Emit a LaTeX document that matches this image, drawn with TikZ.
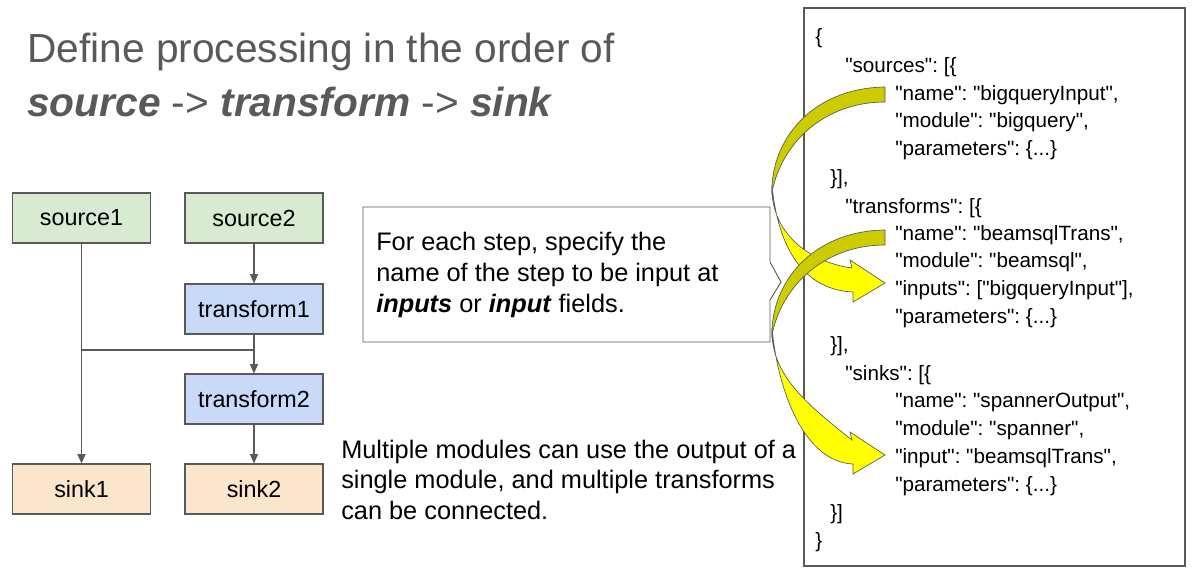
\documentclass[tikz,border=0pt]{standalone}
\usepackage{fontspec}
\setmainfont{Liberation Sans}[Ligatures=TeXOff]
\usetikzlibrary{arrows.meta}
\definecolor{grn}{HTML}{D9EAD3}
\definecolor{blu}{HTML}{C9DAF8}
\definecolor{org}{HTML}{FCE5CD}
\definecolor{edge}{HTML}{595959}
\definecolor{ttl}{HTML}{595959}
\definecolor{ylw}{HTML}{FFFF00}
\definecolor{olv}{HTML}{CCCC00}
\begin{document}
\frenchspacing
\begin{tikzpicture}[x=0.75pt,y=-0.75pt,
  box/.style={draw=edge,line width=0.8pt,minimum width=103.5pt,minimum height=37.5pt,inner sep=0pt,font=\fontsize{17.5}{20}\selectfont},
  con/.style={draw=edge,line width=0.9pt,-{Triangle[length=7pt,width=6pt]}},
  json/.style={anchor=base west,inner sep=0pt,font=\fontsize{15.5}{18}\selectfont},
  txt/.style={anchor=base west,inner sep=0pt,font=\fontsize{19}{22}\selectfont},
  band/.style={draw=edge,line width=0.5pt}]
\useasboundingbox (0,0) rectangle (1200,576);
\fill[white] (0,0) rectangle (1200,576);
% title
\node[anchor=base west,inner sep=0pt,text=ttl,font=\fontsize{30.5}{36}\selectfont] (t1) at (27,62) {Define processing in the order of};
\node[anchor=base west,inner sep=0pt,text=ttl,font=\fontsize{30.5}{36}\selectfont] (t2) at (27,116) {\textbf{\textit{source}} -> \textbf{\textit{transform}} -> \textbf{\textit{sink}}};
% boxes
\node[box,fill=grn] (s1) at (81.5,218) {source1};
\node[box,fill=grn] (s2) at (254,218) {source2};
\node[box,fill=blu] (tr1) at (254,309) {transform1};
\node[box,fill=blu] (tr2) at (254,399) {transform2};
\node[box,fill=org] (k1) at (81.5,489) {sink1};
\node[box,fill=org] (k2) at (254,489) {sink2};
\coordinate (j) at (254,350);
\coordinate (jl) at (81.5,350);
\draw[con] (s1) -- (k1);
\draw[con] (s2) -- (tr1);
\draw[con] (tr1) -- (tr2);
\draw[draw=edge,line width=0.9pt] (jl) -- (j);
\draw[con] (tr2) -- (k2);
% callout
\draw[draw=edge,line width=0.7pt,fill=white] (363,207) -- (770,207) -- (770,262) -- (781,282) -- (770,300) -- (770,342) -- (363,342) -- cycle;
\node[txt] (c1) at (376,250) {For each step, specify the};
\node[txt] (c2) at (376,281) {name of the step to be input at};
\node[txt] (c3) at (376,312) {\textbf{\textit{inputs}} or \textbf{\textit{input}} fields.};
% bottom text
\node[txt] (b1) at (341,458) {Multiple modules can use the output of a};
\node[txt] (b2) at (341,488) {single module, and multiple transforms};
\node[txt] (b3) at (341,519) {can be connected.};
% json box
\draw[draw=edge,line width=0.8pt] (804,8) rectangle (1185,566);
\node[json] at (815,43) {\{};
\node[json] at (845,72) {"sources": [\{};
\node[json] at (895,100) {"name": "bigqueryInput",};
\node[json] at (895,127) {"module": "bigquery",};
\node[json] at (895,155) {"parameters": \{...\}};
\node[json] at (830,184) {\}],};
\node[json] at (845,213) {"transforms": [\{};
\node[json] at (895,240) {"name": "beamsqlTrans",};
\node[json] at (895,267) {"module": "beamsql",};
\node[json] at (895,295) {"inputs": ["bigqueryInput"],};
\node[json] at (895,323) {"parameters": \{...\}};
\node[json] at (830,351) {\}],};
\node[json] at (845,380) {"sinks": [\{};
\node[json] at (895,407) {"name": "spannerOutput",};
\node[json] at (895,435) {"module": "spanner",};
\node[json] at (895,463) {"input": "beamsqlTrans",};
\node[json] at (895,491) {"parameters": \{...\}};
\node[json] at (830,519) {\}]};
\node[json] at (815,547) {\}};
% yellow arrows
\foreach \dy/\ey in {0/0,143/172}{
\begin{scope}[yshift=-0.75*\dy pt]
\filldraw[band,fill=olv] (885,87) .. controls (812,88) and (771,140) .. (772,192)
  .. controls (782,142) and (825,102) .. (885,102) -- cycle;
\end{scope}
\begin{scope}[yshift=-0.75*\dy pt]
\filldraw[band,fill=ylw] (772,185) .. controls (770,232) and (808,262) .. (852,\ey+268-\dy)
  -- (850,\ey+260-\dy) -- (885,\ey+283-\dy) -- (853,\ey+302-\dy) -- (853,\ey+292-\dy)
  .. controls (805,\ey+290-\dy) and (778,250) .. (772,185) -- cycle;
\end{scope}}
\end{tikzpicture}
\end{document}
